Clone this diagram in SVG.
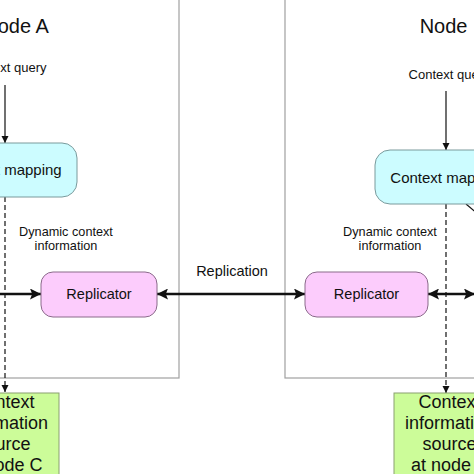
<svg xmlns="http://www.w3.org/2000/svg" width="474" height="474" viewBox="0 0 474 474">
<style>
text{font-family:"Liberation Sans",Arial,sans-serif;fill:#111}
.cont{fill:none;stroke:#a0a0a0;stroke-width:1.2}
.map{fill:#ccfcff;stroke:#7a9a9c;stroke-width:1}
.rep{fill:#fcccfc;stroke:#8a6a8a;stroke-width:1}
.src{fill:#ccfc99;stroke:#8aa070;stroke-width:1}
.thin{stroke:#111;stroke-width:1.2;fill:none}
.dash{stroke:#111;stroke-width:1.2;fill:none;stroke-dasharray:5,3}
.thick{stroke:#111;stroke-width:2.4;fill:none}
</style>
<defs>
<marker id="ah" viewBox="0 0 10 10" refX="10" refY="5" markerWidth="7" markerHeight="9" markerUnits="userSpaceOnUse" orient="auto"><path d="M0,0 L10,5 L0,10 z" fill="#111"/></marker>
<marker id="ahT" viewBox="0 0 10 10" refX="10" refY="5" markerWidth="15" markerHeight="11" markerUnits="userSpaceOnUse" orient="auto-start-reverse"><path d="M0,0 L10,5 L0,10 L2,5 z" fill="#111"/></marker>
</defs>
<rect width="474" height="474" fill="#fff"/>
<g id="nodeA">
<rect class="cont" x="-40" y="-10" width="219" height="388"/>
<text x="16" y="33" font-size="20" text-anchor="middle">Node A</text>
</g>
<g id="nodeB">
<rect class="cont" x="285" y="-10" width="230" height="388"/>
<text x="453" y="33" font-size="20" text-anchor="middle">Node B</text>
</g>
<g id="labels">
<text x="6" y="72" font-size="13" text-anchor="middle">Context query</text>
<text x="449" y="79" font-size="13" text-anchor="middle">Context query</text>
<text x="66" y="236" font-size="12.7" text-anchor="middle">Dynamic context</text>
<text x="66" y="250" font-size="12.7" text-anchor="middle">information</text>
<text x="390" y="236" font-size="12.7" text-anchor="middle">Dynamic context</text>
<text x="390" y="250" font-size="12.7" text-anchor="middle">information</text>
<text x="232" y="276" font-size="14.5" text-anchor="middle">Replication</text>
</g>
<g id="connectors">
<line class="thin" x1="5" y1="85" x2="5" y2="143" marker-end="url(#ah)"/>
<line class="thin" x1="446" y1="91" x2="446" y2="150" marker-end="url(#ah)"/>
<line class="dash" x1="5" y1="197" x2="5" y2="392" marker-end="url(#ah)"/>
<line class="dash" x1="446" y1="204" x2="446" y2="393" marker-end="url(#ah)"/>
<line class="thick" x1="-20" y1="294" x2="41" y2="294" marker-end="url(#ahT)"/>
<line class="thick" x1="157" y1="294" x2="305" y2="294" marker-start="url(#ahT)" marker-end="url(#ahT)"/>
<line class="thick" x1="428" y1="294" x2="475" y2="294" marker-start="url(#ahT)" marker-end="url(#ahT)"/>
<line class="thin" x1="466" y1="204" x2="478" y2="214"/>
</g>
<g id="mapA">
<rect class="map" x="-67" y="143" width="144" height="54" rx="15"/>
<text x="5" y="175" font-size="15" text-anchor="middle">Context mapping</text>
</g>
<g id="mapB">
<rect class="map" x="375" y="150" width="144" height="54" rx="15"/>
<text x="447" y="183" font-size="15" text-anchor="middle">Context mapping</text>
</g>
<g id="repA">
<rect class="rep" x="41" y="272" width="116" height="45" rx="12"/>
<text x="99" y="299" font-size="14.5" text-anchor="middle">Replicator</text>
</g>
<g id="repB">
<rect class="rep" x="305" y="272" width="123" height="45" rx="12"/>
<text x="366.5" y="299" font-size="14.5" text-anchor="middle">Replicator</text>
</g>
<g id="srcC">
<rect class="src" x="-52" y="393" width="111" height="90"/>
<text x="3.5" y="408" font-size="18" text-anchor="middle">Context</text>
<text x="3.5" y="429" font-size="18" text-anchor="middle">information</text>
<text x="3.5" y="450" font-size="18" text-anchor="middle">source</text>
<text x="3.5" y="471" font-size="18" text-anchor="middle">at node C</text>
</g>
<g id="srcB">
<rect class="src" x="394" y="393" width="111" height="90"/>
<text x="449.5" y="408" font-size="18" text-anchor="middle">Context</text>
<text x="449.5" y="429" font-size="18" text-anchor="middle">information</text>
<text x="449.5" y="450" font-size="18" text-anchor="middle">source</text>
<text x="449.5" y="471" font-size="18" text-anchor="middle">at node B</text>
</g>
</svg>
